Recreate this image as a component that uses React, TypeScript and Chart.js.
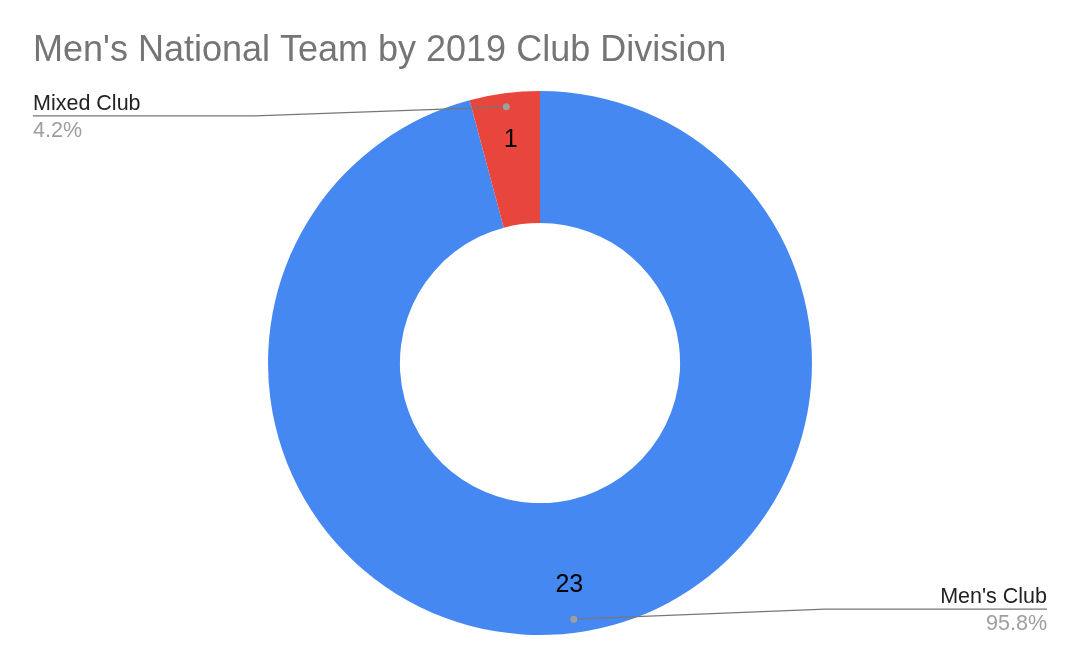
import React, { useEffect, useRef } from 'react'
import { Chart, registerables } from 'chart.js'

Chart.register(...registerables)

const title = "Men's National Team by 2019 Club Division"
const divisions = ["Men's Club", 'Mixed Club']
const players = [23, 1]
const sliceColors = ['#4688F1', '#E8453C']

const FONT = '"Liberation Sans", Arial, sans-serif'

const labelsPlugin = {
  id: 'sheetLabels',
  afterDraw(chart: any) {
    const ctx = chart.ctx
    const meta = chart.getDatasetMeta(0)
    const total = players.reduce((a, b) => a + b, 0)

    ctx.save()
    // title
    ctx.font = `36px ${FONT}`
    ctx.fillStyle = '#757575'
    ctx.textAlign = 'left'
    ctx.textBaseline = 'alphabetic'
    ctx.fillText(title, 33, 61)

    meta.data.forEach((arc: any, i: number) => {
      const { x, y, startAngle, endAngle, innerRadius, outerRadius } = arc.getProps(
        ['x', 'y', 'startAngle', 'endAngle', 'innerRadius', 'outerRadius'],
        true
      )
      const mid = (startAngle + endAngle) / 2
      const cos = Math.cos(mid)
      const sin = Math.sin(mid)

      // value inside slice
      const vr = innerRadius + 0.64 * (outerRadius - innerRadius)
      ctx.font = `25px ${FONT}`
      ctx.fillStyle = '#000000'
      ctx.textAlign = 'center'
      ctx.textBaseline = 'middle'
      ctx.fillText(String(players[i]), x + cos * vr, y + sin * vr)

      // leader line
      const dr = outerRadius * 0.95
      const dx = x + cos * dr
      const dy = y + sin * dr
      const left = cos < 0
      const anchorX = left ? 33 : chart.width - 33
      const lineY = dy < y ? dy + 9 : dy - 10
      const elbowX = left ? anchorX + 222 : anchorX - 222

      ctx.strokeStyle = '#777777'
      ctx.lineWidth = 1.2
      ctx.beginPath()
      ctx.moveTo(anchorX, lineY)
      ctx.lineTo(elbowX, lineY)
      ctx.lineTo(dx, dy)
      ctx.stroke()

      ctx.fillStyle = '#9E9E9E'
      ctx.beginPath()
      ctx.arc(dx, dy, 3.5, 0, Math.PI * 2)
      ctx.fill()

      ctx.textAlign = left ? 'left' : 'right'
      ctx.textBaseline = 'alphabetic'
      ctx.font = `21.5px ${FONT}`
      ctx.fillStyle = '#222222'
      ctx.fillText(divisions[i], anchorX, lineY - 6)
      ctx.fillStyle = '#9E9E9E'
      ctx.fillText(((players[i] / total) * 100).toFixed(1) + '%', anchorX, lineY + 21)
    })
    ctx.restore()
  },
}

export default function App() {
  const canvasRef = useRef<HTMLCanvasElement | null>(null)
  const chartRef = useRef<Chart | null>(null)

  useEffect(() => {
    document.body.style.margin = '0'
    if (!canvasRef.current) return
    if (chartRef.current) chartRef.current.destroy()

    chartRef.current = new Chart(canvasRef.current, {
      type: 'doughnut',
      data: {
        labels: divisions,
        datasets: [
          {
            data: players,
            backgroundColor: sliceColors,
            borderWidth: 0,
            hoverOffset: 0,
          },
        ],
      },
      options: {
        animation: false,
        responsive: true,
        maintainAspectRatio: false,
        cutout: '51.5%',
        layout: { padding: { top: 91, bottom: 33, left: 0, right: 0 } },
        plugins: {
          legend: { display: false },
          tooltip: { enabled: false },
          title: { display: false },
        },
      },
      plugins: [labelsPlugin],
    })

    return () => {
      if (chartRef.current) {
        chartRef.current.destroy()
        chartRef.current = null
      }
    }
  }, [])

  return (
    <div style={{ width: 1080, height: 668, background: '#ffffff', position: 'relative' }}>
      <canvas ref={canvasRef} />
    </div>
  )
}
